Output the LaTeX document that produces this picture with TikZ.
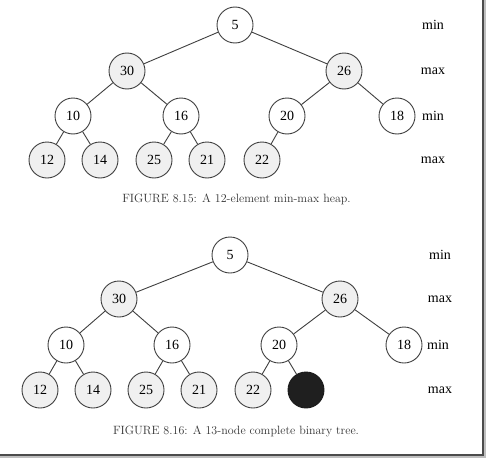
\documentclass[tikz,border=0pt]{standalone}
\usepackage{fontspec}
\newfontfamily\tms{Liberation Serif}
\begin{document}
\begin{tikzpicture}[x=1pt,y=-1pt,
  every node/.style={inner sep=0pt},
  nd/.style={circle,draw=black!75,line width=0.9pt,minimum size=36pt,font=\tms\fontsize{14}{14}\selectfont},
  minn/.style={nd,fill=white},
  maxn/.style={nd,fill=black!6},
  blk/.style={nd,fill=black!88,draw=black!90},
  lvl/.style={font=\tms\fontsize{14}{14}\selectfont,anchor=center},
  captxt/.style={font=\fontsize{12}{14}\selectfont,text=black!80},
  treeline/.style={draw=black!75,line width=0.9pt}]
\useasboundingbox (0,0) rectangle (486,460);
\fill[white] (0,0) rectangle (486,460);
% frame
\draw[black!25,line width=3pt] (0,456.5) -- (484.5,456.5) -- (484.5,0);
\draw[black!70,line width=1.8pt] (0,455) -- (483,455) -- (483,0);
% top tree
\node[minn] (a1) at (235,25) {5};
\node[maxn] (a2) at (127,71) {30};
\node[maxn] (a3) at (344,71) {26};
\node[minn] (a4) at (73,116) {10};
\node[minn] (a5) at (181,116) {16};
\node[minn] (a6) at (287,116) {20};
\node[minn] (a7) at (397,116) {18};
\node[maxn] (a8) at (47,160) {12};
\node[maxn] (a9) at (100,160) {14};
\node[maxn] (a10) at (154,160) {25};
\node[maxn] (a11) at (207,160) {21};
\node[maxn] (a12) at (262,160) {22};
\foreach \p/\c in {a1/a2,a1/a3,a2/a4,a2/a5,a3/a6,a3/a7,a4/a8,a4/a9,a5/a10,a5/a11,a6/a12}
  \draw[treeline] (\p) -- (\c);
\node[lvl] (la1) at (433,25) {min};
\node[lvl] (la2) at (433,71) {max};
\node[lvl] (la3) at (433,116) {min};
\node[lvl] (la4) at (433,160) {max};
\node[captxt] (ca) at (236.5,199) {FIGURE 8.15: A 12-element min-max heap.};
% bottom tree
\node[minn] (b1) at (230,255) {5};
\node[maxn] (b2) at (119,299) {30};
\node[maxn] (b3) at (340,299) {26};
\node[minn] (b4) at (66,345) {10};
\node[minn] (b5) at (172,345) {16};
\node[minn] (b6) at (279,345) {20};
\node[minn] (b7) at (404,345) {18};
\node[maxn] (b8) at (40,390) {12};
\node[maxn] (b9) at (93,390) {14};
\node[maxn] (b10) at (146,390) {25};
\node[maxn] (b11) at (199,390) {21};
\node[maxn] (b12) at (253,390) {22};
\node[blk] (b13) at (306,390) {};
\foreach \p/\c in {b1/b2,b1/b3,b2/b4,b2/b5,b3/b6,b3/b7,b4/b8,b4/b9,b5/b10,b5/b11,b6/b12,b6/b13}
  \draw[treeline] (\p) -- (\c);
\node[lvl] (lb1) at (440,255) {min};
\node[lvl] (lb2) at (440,299) {max};
\node[lvl] (lb3) at (438,345) {min};
\node[lvl] (lb4) at (440,390) {max};
\node[captxt] (cb) at (236,431) {FIGURE 8.16: A 13-node complete binary tree.};
\end{tikzpicture}
\end{document}
